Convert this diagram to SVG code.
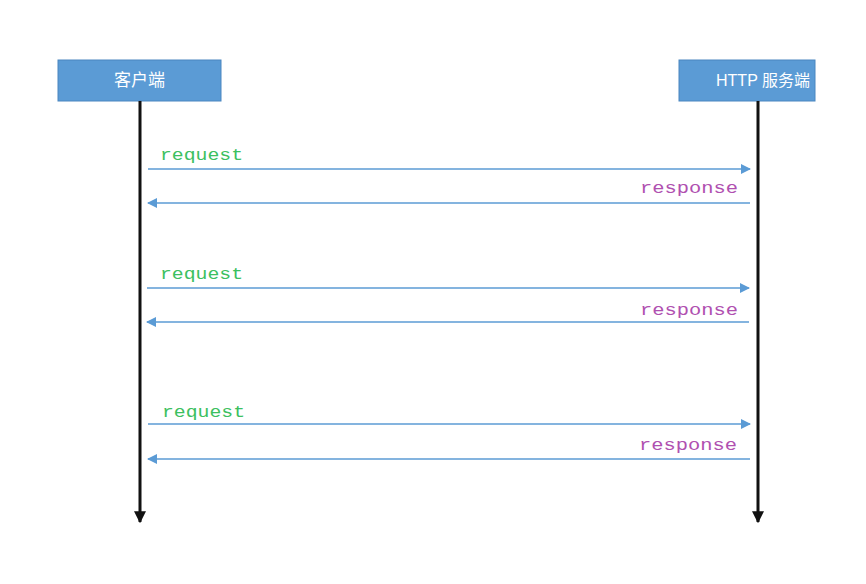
<svg xmlns="http://www.w3.org/2000/svg" width="866" height="584" viewBox="0 0 866 584">
<style>
.box{fill:#5b9bd5;stroke:#4a86c0;stroke-width:1}
.bt{font-family:"Liberation Sans","Noto Sans CJK SC",sans-serif;font-size:17px;fill:#fff;text-anchor:middle}
.life{stroke:#111;stroke-width:3;fill:none}
.msg{stroke:#5b9bd5;stroke-width:1.5;fill:none}
.req{font-family:"Liberation Mono",monospace;font-size:17px;fill:#3cc060}
.res{font-family:"Liberation Mono",monospace;font-size:17px;fill:#b050b0}
</style>
<defs>
<marker id="ab" viewBox="0 0 10 10" refX="9" refY="5" markerWidth="10" markerHeight="10" markerUnits="userSpaceOnUse" orient="auto"><path d="M0,0 L10,5 L0,10 z" fill="#5b9bd5"/></marker>
<marker id="ak" viewBox="0 0 10 10" refX="9" refY="5" markerWidth="12" markerHeight="12" markerUnits="userSpaceOnUse" orient="auto"><path d="M0,0 L10,5 L0,10 z" fill="#111"/></marker>
</defs>
<rect width="866" height="584" fill="#fff"/>
<g id="client"><rect class="box" x="58" y="60" width="163" height="41"/><text class="bt" x="139.5" y="86">客户端</text></g>
<g id="server"><rect class="box" x="679" y="60" width="136" height="41"/><text class="bt" x="763" y="86" font-size="16" style="font-size:16px">HTTP 服务端</text></g>
<g id="connectors">
<line class="life" x1="140" y1="101" x2="140" y2="522" marker-end="url(#ak)"/>
<line class="life" x1="758" y1="101" x2="758" y2="522" marker-end="url(#ak)"/>
<line class="msg" x1="148" y1="169" x2="750" y2="169" marker-end="url(#ab)"/>
<line class="msg" x1="750" y1="203" x2="148" y2="203" marker-end="url(#ab)"/>
<line class="msg" x1="147" y1="288" x2="749" y2="288" marker-end="url(#ab)"/>
<line class="msg" x1="749" y1="322" x2="147" y2="322" marker-end="url(#ab)"/>
<line class="msg" x1="148" y1="424" x2="750" y2="424" marker-end="url(#ab)"/>
<line class="msg" x1="750" y1="459" x2="148" y2="459" marker-end="url(#ab)"/>
<text class="req" x="160" y="160" textLength="83" lengthAdjust="spacingAndGlyphs">request</text>
<text class="res" x="640" y="193" textLength="98" lengthAdjust="spacingAndGlyphs">response</text>
<text class="req" x="160" y="279" textLength="83" lengthAdjust="spacingAndGlyphs">request</text>
<text class="res" x="640" y="315" textLength="98" lengthAdjust="spacingAndGlyphs">response</text>
<text class="req" x="162" y="417" textLength="83" lengthAdjust="spacingAndGlyphs">request</text>
<text class="res" x="639" y="450" textLength="98" lengthAdjust="spacingAndGlyphs">response</text>
</g>
</svg>
